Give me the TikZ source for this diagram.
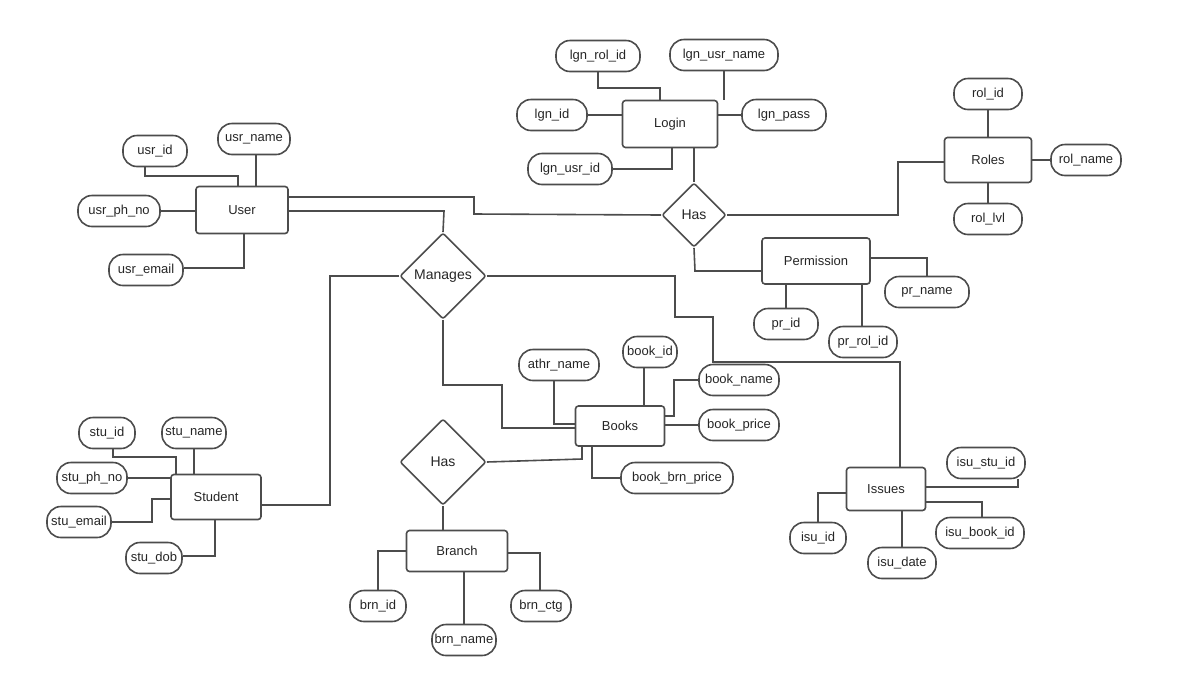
\documentclass[tikz,border=0pt]{standalone}
\usepackage{fontspec}
\setmainfont{Liberation Sans}
\usetikzlibrary{shapes.geometric}
\begin{document}
\begin{tikzpicture}[x=1pt,y=-1pt,
  lnk/.style={draw=black!70,line width=1.6pt},
  ent/.style={draw=black!70,line width=1.6pt,rounded corners=3pt,fill=white,font=\fontsize{13}{15}\selectfont,text=black!85},
  att/.style={draw=black!70,line width=1.6pt,rounded corners=14pt,fill=white,minimum height=31pt,inner xsep=0pt,font=\fontsize{13}{15}\selectfont,text=black!85},
  rel/.style={draw=black!70,line width=1.6pt,diamond,aspect=1,inner sep=0pt,fill=white,font=\fontsize{14}{16}\selectfont,text=black!85,rounded corners=2pt}]
\useasboundingbox (0,0) rectangle (1200,697);
% entities
\node[ent,minimum width=95pt,minimum height=47pt] (login) at (670,124) {Login};
\node[ent,minimum width=92pt,minimum height=47pt] (user) at (242,210) {User};
\node[ent,minimum width=87pt,minimum height=45pt] (roles) at (988,160) {Roles};
\node[ent,minimum width=108pt,minimum height=46pt] (perm) at (816,261) {Permission};
\node[ent,minimum width=89pt,minimum height=40pt] (books) at (620,426) {Books};
\node[ent,minimum width=90pt,minimum height=45pt] (student) at (216,497) {Student};
\node[ent,minimum width=101pt,minimum height=41pt] (branch) at (457,551) {Branch};
\node[ent,minimum width=79pt,minimum height=43pt] (issues) at (886,489) {Issues};
% relations
\node[rel,minimum size=64pt] (has1) at (694,215) {Has};
\node[rel,minimum size=86pt] (manages) at (443,276) {Manages};
\node[rel,minimum size=86pt] (has2) at (443,462) {Has};
% attributes
\node[att,minimum width=84pt] (lgnrol) at (598,56) {lgn\_rol\_id};
\node[att,minimum width=108pt] (lgnusrname) at (724,55) {lgn\_usr\_name};
\node[att,minimum width=70pt] (lgnid) at (552,115) {lgn\_id};
\node[att,minimum width=84pt] (lgnpass) at (784,115) {lgn\_pass};
\node[att,minimum width=84pt] (lgnusrid) at (570,169) {lgn\_usr\_id};
\node[att,minimum width=68pt] (rolid) at (988,94) {rol\_id};
\node[att,minimum width=70pt] (rolname) at (1086,160) {rol\_name};
\node[att,minimum width=68pt] (rollvl) at (988,219) {rol\_lvl};
\node[att,minimum width=64pt] (usrid) at (155,151) {usr\_id};
\node[att,minimum width=72pt] (usrname) at (254,139) {usr\_name};
\node[att,minimum width=82pt] (usrph) at (119,211) {usr\_ph\_no};
\node[att,minimum width=74pt] (usremail) at (146,270) {usr\_email};
\node[att,minimum width=84pt] (prname) at (927,292) {pr\_name};
\node[att,minimum width=64pt] (prid) at (786,324) {pr\_id};
\node[att,minimum width=68pt] (prrol) at (863,342) {pr\_rol\_id};
\node[att,minimum width=80pt] (athr) at (559,365) {athr\_name};
\node[att,minimum width=54pt] (bookid) at (650,352) {book\_id};
\node[att,minimum width=80pt] (bookname) at (739,380) {book\_name};
\node[att,minimum width=80pt] (bookprice) at (739,425) {book\_price};
\node[att,minimum width=112pt] (bookbrn) at (677,478) {book\_brn\_price};
\node[att,minimum width=56pt] (stuid) at (107,433) {stu\_id};
\node[att,minimum width=64pt] (stuname) at (194,433) {stu\_name};
\node[att,minimum width=70pt] (stuph) at (92,478) {stu\_ph\_no};
\node[att,minimum width=64pt] (stuemail) at (79,522) {stu\_email};
\node[att,minimum width=56pt] (studob) at (154,558) {stu\_dob};
\node[att,minimum width=56pt] (brnid) at (378,606) {brn\_id};
\node[att,minimum width=64pt] (brnname) at (464,640) {brn\_name};
\node[att,minimum width=60pt] (brnctg) at (541,606) {brn\_ctg};
\node[att,minimum width=78pt] (isustu) at (986,463) {isu\_stu\_id};
\node[att,minimum width=88pt] (isubook) at (980,533) {isu\_book\_id};
\node[att,minimum width=56pt] (isuid) at (818,538) {isu\_id};
\node[att,minimum width=68pt] (isudate) at (902,563) {isu\_date};
% connectors
\begin{scope}[on background layer/.style={}]
\draw[lnk] (lgnrol.south) |- (660,88) -- (login.north -| 660,0);
\draw[lnk] (lgnusrname.south) -- (login.north -| lgnusrname.south);
\draw[lnk] (lgnid.east) -- (login.west |- lgnid.east);
\draw[lnk] (lgnpass.west) -- (login.east |- lgnpass.west);
\draw[lnk] (lgnusrid.east) -| (login.south -| 672,0);
\draw[lnk] (login.south -| has1.north) -- (has1.north);
\draw[lnk] (has1.east) -- (898,215) |- (roles.west |- 0,162);
\draw[lnk] (has1.south) -- (695,271) -- (perm.west |- 0,271);
\draw[lnk] (user.east |- 0,197) -- (474,197) -- (474,214) -- (has1.west);
\draw[lnk] (user.east |- 0,211) -- (444,211) -- (manages.north);
\draw[lnk] (manages.west) -- (330,276) -- (330,505) -- (student.east |- 0,505);
\draw[lnk] (manages.east) -- (675,276) -- (675,317) -- (713,317) -- (713,362) -- (900,362) -- (issues.north -| 900,0);
\draw[lnk] (manages.south) -- (443,385) -- (502,385) -- (502,428) -- (books.west |- 0,428);
\draw[lnk] (has2.east) -- (582,459) -- (books.south -| 582,0);
\draw[lnk] (has2.south) -- (branch.north -| has2.south);
\draw[lnk] (athr.south -| 554,0) -- (554,424) -- (books.west |- 0,424);
\draw[lnk] (bookid.south -| 644,0) -- (books.north -| 644,0);
\draw[lnk] (bookname.west) -- (674,380) -- (674,416) -- (books.east |- 0,416);
\draw[lnk] (bookprice.west) -- (books.east |- bookprice.west);
\draw[lnk] (bookbrn.west) -| (books.south -| 592,0);
\draw[lnk] (rolid.south) -- (roles.north);
\draw[lnk] (rolname.west) -- (roles.east |- rolname.west);
\draw[lnk] (rollvl.north) -- (roles.south);
\draw[lnk] (prid.north) -- (perm.south -| prid.north);
\draw[lnk] (prrol.north -| 862,0) -- (perm.south -| 862,0);
\draw[lnk] (perm.east |- 0,258) -- (927,258) -- (prname.north);
\draw[lnk] (usrid.south -| 145,0) -- (145,176) -- (238,176) -- (user.north -| 238,0);
\draw[lnk] (usrname.south -| 256,0) -- (user.north -| 256,0);
\draw[lnk] (usrph.east) -- (user.west |- usrph.east);
\draw[lnk] (usremail.east |- 0,268) -- (244,268) -- (user.south -| 244,0);
\draw[lnk] (stuid.south -| 113,0) -- (113,457) -- (176,457) -- (student.north -| 176,0);
\draw[lnk] (stuname.south) -- (student.north -| stuname.south);
\draw[lnk] (stuph.east) -- (student.west |- stuph.east);
\draw[lnk] (stuemail.east) -- (152,522) -- (152,499) -- (student.west |- 0,499);
\draw[lnk] (studob.east |- 0,556) -- (215,556) -- (student.south -| 215,0);
\draw[lnk] (brnid.north) |- (branch.west |- 0,551);
\draw[lnk] (brnname.north) -- (branch.south -| brnname.north);
\draw[lnk] (brnctg.north -| 540,0) |- (branch.east |- 0,553);
\draw[lnk] (issues.east |- 0,487) -- (1018,487) -- (isustu.south -| 1018,0);
\draw[lnk] (issues.east |- 0,502) -- (982,502) -- (isubook.north -| 982,0);
\draw[lnk] (isuid.north) |- (issues.west |- 0,493);
\draw[lnk] (isudate.north) -- (issues.south -| isudate.north);
\end{scope}
\end{tikzpicture}
\end{document}
